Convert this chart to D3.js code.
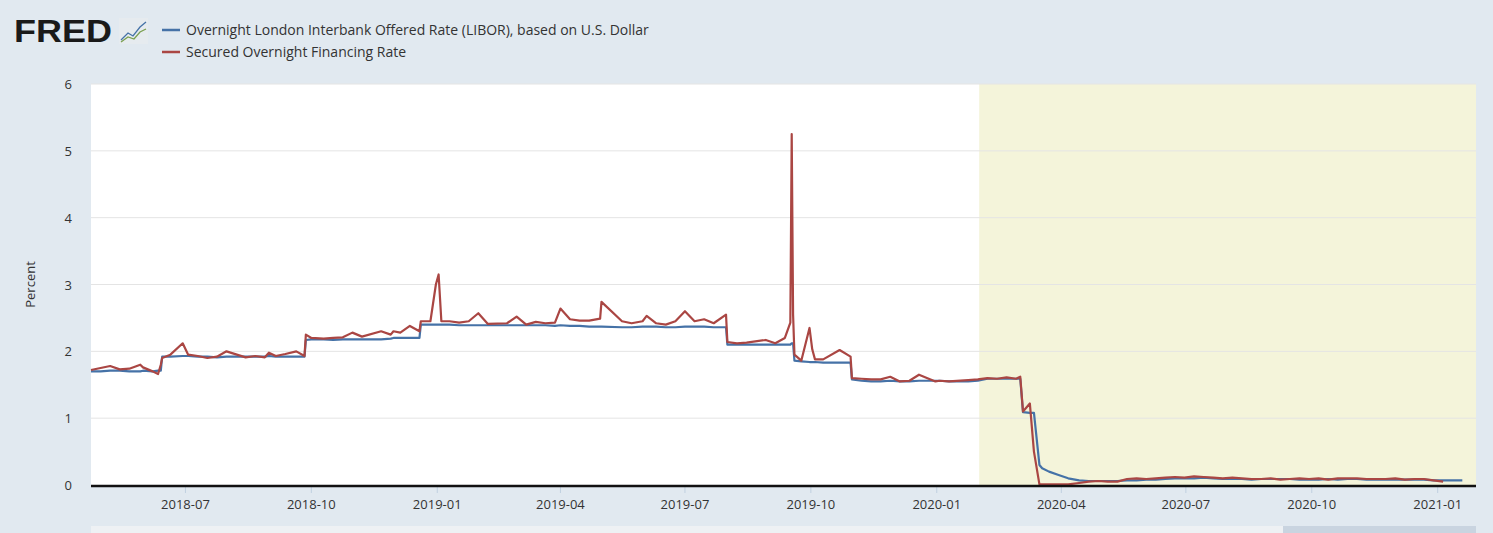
<!DOCTYPE html>
<html><head><meta charset="utf-8">
<script src="https://cdn.jsdelivr.net/npm/d3@7"></script>
<style>body{margin:0;background:#e1e9f0;font-family:"Open Sans",sans-serif}</style>
</head><body><svg id="c" width="1493" height="533"></svg>
<script>
const dates = ["2018-04-23","2018-04-30","2018-05-07","2018-05-14","2018-05-21","2018-05-29","2018-05-31","2018-06-04","2018-06-07","2018-06-11","2018-06-13","2018-06-14","2018-06-20","2018-06-29","2018-07-03","2018-07-10","2018-07-17","2018-07-24","2018-07-31","2018-08-07","2018-08-14","2018-08-21","2018-08-28","2018-08-31","2018-09-05","2018-09-12","2018-09-20","2018-09-26","2018-09-27","2018-10-01","2018-10-10","2018-10-17","2018-10-24","2018-10-31","2018-11-07","2018-11-14","2018-11-21","2018-11-28","2018-11-30","2018-12-05","2018-12-12","2018-12-19","2018-12-20","2018-12-27","2018-12-31","2019-01-02","2019-01-04","2019-01-10","2019-01-17","2019-01-24","2019-01-31","2019-02-07","2019-02-14","2019-02-21","2019-02-28","2019-03-07","2019-03-14","2019-03-21","2019-03-28","2019-04-01","2019-04-08","2019-04-15","2019-04-22","2019-04-30","2019-05-01","2019-05-09","2019-05-16","2019-05-23","2019-05-31","2019-06-03","2019-06-10","2019-06-17","2019-06-24","2019-07-01","2019-07-08","2019-07-15","2019-07-22","2019-07-31","2019-08-01","2019-08-08","2019-08-15","2019-08-22","2019-08-29","2019-09-05","2019-09-12","2019-09-16","2019-09-17","2019-09-18","2019-09-19","2019-09-24","2019-09-30","2019-10-02","2019-10-04","2019-10-10","2019-10-15","2019-10-22","2019-10-30","2019-10-31","2019-11-07","2019-11-14","2019-11-21","2019-11-28","2019-12-05","2019-12-12","2019-12-19","2019-12-31","2020-01-03","2020-01-10","2020-01-17","2020-01-24","2020-01-31","2020-02-07","2020-02-14","2020-02-21","2020-02-28","2020-03-02","2020-03-04","2020-03-09","2020-03-12","2020-03-16","2020-03-18","2020-03-23","2020-03-30","2020-04-06","2020-04-14","2020-04-21","2020-04-28","2020-05-05","2020-05-12","2020-05-19","2020-05-26","2020-06-02","2020-06-09","2020-06-16","2020-06-23","2020-06-30","2020-07-07","2020-07-14","2020-07-21","2020-07-28","2020-08-04","2020-08-11","2020-08-18","2020-08-25","2020-09-01","2020-09-08","2020-09-15","2020-09-22","2020-09-29","2020-10-06","2020-10-13","2020-10-20","2020-10-27","2020-11-03","2020-11-10","2020-11-17","2020-11-24","2020-12-01","2020-12-08","2020-12-15","2020-12-22","2020-12-29","2021-01-05","2021-01-12","2021-01-19","2021-01-26"];
const libor = [1.70,1.70,1.71,1.71,1.70,1.70,1.71,null,1.70,1.71,1.71,1.92,1.92,1.93,1.93,1.92,1.92,1.91,1.92,null,1.92,1.92,1.92,1.93,1.92,1.92,1.92,1.92,2.17,2.18,2.18,2.17,2.18,2.18,2.18,null,2.18,2.19,2.20,2.20,2.20,2.20,2.40,2.40,2.40,2.40,2.40,2.40,2.39,2.39,2.39,2.39,null,2.39,2.39,2.39,2.39,2.39,2.38,2.39,2.38,2.38,2.37,2.37,2.37,null,2.36,2.36,2.37,2.37,2.37,2.36,2.36,2.37,2.37,2.37,2.36,2.36,2.10,2.10,2.10,null,2.10,2.10,2.10,2.10,2.12,2.12,1.86,1.85,1.84,1.84,1.84,1.83,null,1.83,1.83,1.58,1.56,1.55,1.55,1.56,1.55,1.55,1.56,1.56,1.56,1.55,null,1.55,1.56,1.59,1.59,1.59,1.59,1.59,1.09,1.08,1.08,0.30,0.25,0.20,0.15,0.10,0.07,0.06,0.06,0.06,0.06,0.07,0.07,0.08,0.08,0.09,0.10,0.10,0.10,0.11,0.10,0.09,0.09,0.09,0.08,0.09,0.09,0.09,0.09,0.08,0.08,0.08,0.09,0.08,0.09,0.09,0.08,0.08,0.08,0.08,0.08,0.08,0.08,0.07,0.07,0.07,0.07];
const sofr = [1.72,1.75,1.78,1.73,1.74,1.80,1.76,null,1.70,1.66,1.80,1.90,1.95,2.12,1.95,1.93,1.90,1.92,2.00,null,1.91,1.93,1.91,1.98,1.93,1.96,2.00,1.93,2.25,2.20,2.19,2.20,2.21,2.28,2.22,null,2.30,2.25,2.30,2.28,2.38,2.30,2.45,2.45,3.00,3.15,2.45,2.45,2.43,2.45,2.57,2.41,null,2.42,2.52,2.40,2.44,2.42,2.43,2.64,2.48,2.46,2.46,2.49,2.74,null,2.45,2.42,2.45,2.53,2.42,2.40,2.45,2.60,2.45,2.48,2.42,2.55,2.14,2.12,2.13,null,2.17,2.12,2.20,2.43,5.25,2.55,1.95,1.86,2.35,2.03,1.88,1.88,null,2.02,1.92,1.60,1.59,1.58,1.58,1.62,1.55,1.56,1.65,1.55,1.56,1.55,null,1.57,1.58,1.60,1.59,1.61,1.59,1.62,1.10,1.22,0.50,0.01,0.01,0.01,0.01,0.01,0.03,0.05,0.06,0.05,0.05,0.09,0.10,0.09,0.10,0.11,0.12,0.11,0.13,0.12,0.11,0.10,0.11,0.10,0.09,0.09,0.10,0.08,0.09,0.10,0.09,0.10,0.08,0.10,0.10,0.10,0.09,0.09,0.09,0.10,0.08,0.09,0.09,0.07,0.05];
const yTicks = [0,1,2,3,4,5,6];
const xTicks = ["2018-07","2018-10","2019-01","2019-04","2019-07","2019-10","2020-01","2020-04","2020-07","2020-10","2021-01"];
const recession = ["2020-02-01","2021-01-29"];
const seriesNames = ["Overnight London Interbank Offered Rate (LIBOR), based on U.S. Dollar","Secured Overnight Financing Rate"];
const colors = ["#4572a7","#aa4643"];

const svg = d3.select("#c");
const L=91,R=1476,T=84,B=485;
const p = d3.utcParse("%Y-%m-%d"), pm = d3.utcParse("%Y-%m");
const x = d3.scaleUtc().domain([p("2018-04-23"),p("2021-01-29")]).range([L,R]);
const y = d3.scaleLinear().domain([0,6]).range([B,T]);
svg.append("rect").attr("x",L).attr("y",T).attr("width",R-L).attr("height",B-T).attr("fill","#fff");
svg.append("rect").attr("x",x(p(recession[0]))).attr("y",T).attr("width",x(p(recession[1]))-x(p(recession[0]))).attr("height",B-T).attr("fill","#f4f4da");
yTicks.forEach(t=>{
  if(t>0) svg.append("line").attr("x1",L).attr("x2",R).attr("y1",y(t)).attr("y2",y(t)).attr("stroke","#e4e4e4");
  svg.append("text").attr("x",72).attr("y",y(t)+5).attr("text-anchor","end").attr("font-size",13).attr("fill","#333").text(t);
});
xTicks.forEach(t=>{
  const xx=x(pm(t));
  svg.append("line").attr("x1",xx).attr("x2",xx).attr("y1",B).attr("y2",B+8).attr("stroke","#c0d0e0");
  svg.append("text").attr("x",xx).attr("y",B+24).attr("text-anchor","middle").attr("font-size",13).attr("fill","#333").text(t);
});
svg.append("text").attr("transform",`translate(35,${(T+B)/2}) rotate(-90)`).attr("text-anchor","middle").attr("font-size",13).attr("fill","#333").text("Percent");
const pts = dates.map((d,i)=>({d:p(d),a:libor[i],b:sofr[i]}));
[["a",0],["b",1]].forEach(([k,i])=>{
  const line=d3.line().x(v=>x(v.d)).y(v=>y(v[k]));
  svg.append("path").attr("d",line(pts.filter(v=>v[k]!=null))).attr("fill","none").attr("stroke",colors[i]).attr("stroke-width",2.2).attr("stroke-linejoin","round");
});
svg.append("line").attr("x1",L).attr("x2",R).attr("y1",B+1).attr("y2",B+1).attr("stroke","#111").attr("stroke-width",2.5);
// scrollbar
svg.append("rect").attr("x",L).attr("y",526).attr("width",R-L).attr("height",7).attr("fill","#eef1f4");
svg.append("rect").attr("x",1283).attr("y",526).attr("width",R-1283).attr("height",7).attr("fill","#c9d4e0");
// logo & legend
svg.append("text").attr("x",14).attr("y",42).attr("font-family","Liberation Sans, Arial").attr("font-weight","bold").attr("font-size",31).attr("textLength",98).attr("lengthAdjust","spacingAndGlyphs").attr("fill","#1a1a1a").text("FRED");
svg.append("rect").attr("x",119).attr("y",18).attr("width",29).attr("height",26).attr("fill","#e6ebef");
svg.append("path").attr("d","M121,40 L128,33 L133,36 L140,27 L146,22").attr("stroke","#4572a7").attr("fill","none").attr("stroke-width",1.3);
svg.append("path").attr("d","M121,42 L128,37 L134,39 L140,32 L146,29").attr("stroke","#7aa050").attr("fill","none").attr("stroke-width",1.3);
seriesNames.forEach((n,i)=>{
  const yy=30+i*22;
  svg.append("line").attr("x1",162).attr("x2",180).attr("y1",yy).attr("y2",yy).attr("stroke",colors[i]).attr("stroke-width",2.5);
  svg.append("text").attr("x",186).attr("y",yy+5).attr("font-size",14).attr("fill","#333").text(n);
});
</script></body></html>
